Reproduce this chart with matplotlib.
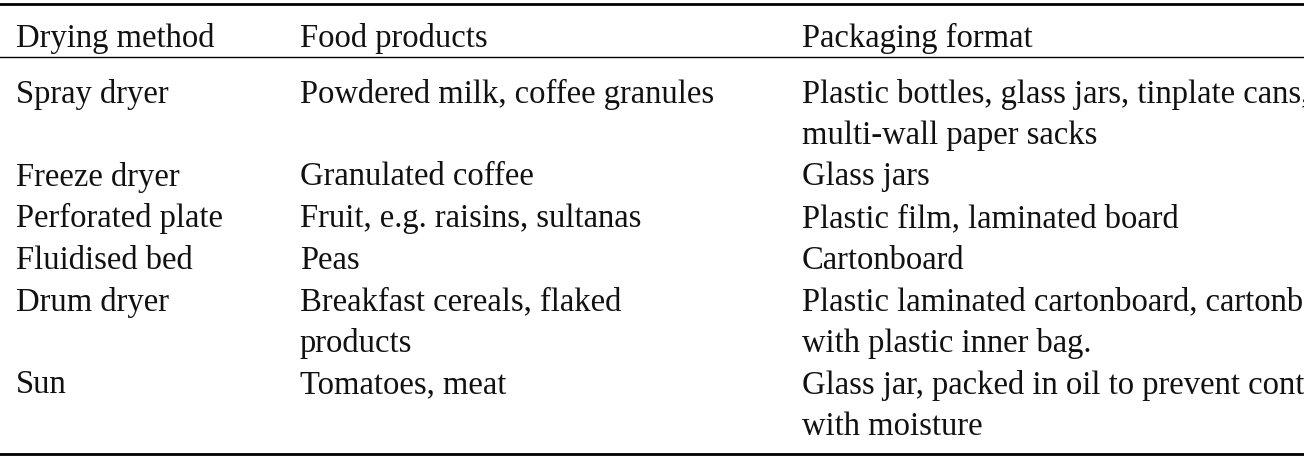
import matplotlib.pyplot as plt

headers = ['Drying method', 'Food products', 'Packaging format']
methods = ['Spray dryer', 'Freeze dryer', 'Perforated plate', 'Fluidised bed', 'Drum dryer', 'Sun']
products = [['Powdered milk, coffee granules'], ['Granulated coffee'], ['Fruit, e.g. raisins, sultanas'],
            ['Peas'], ['Breakfast cereals, flaked', 'products'], ['Tomatoes, meat']]
packaging = [['Plastic bottles, glass jars, tinplate cans,', 'multi-wall paper sacks'], ['Glass jars'],
             ['Plastic film, laminated board'], ['Cartonboard'],
             ['Plastic laminated cartonboard, cartonboard', 'with plastic inner bag.'],
             ['Glass jar, packed in oil to prevent contact', 'with moisture']]

W, H = 1304, 458
fig = plt.figure(figsize=(W / 100, H / 100), dpi=100)
ax = fig.add_axes([0, 0, 1, 1])
ax.set_xlim(0, W)
ax.set_ylim(H, 0)
ax.axis('off')

col_x = [16, 300, 802]
font = dict(family='Liberation Serif', fontsize=23.5, color='#111111', va='center', ha='left')

for x, h in zip(col_x, headers):
    ax.text(x, 38, h, **font)

y0, step = 94, 41.6
line = 0
for m, p, k in zip(methods, products, packaging):
    n = max(len(p), len(k))
    ax.text(col_x[0], y0 + line * step, m, **font)
    for j, s in enumerate(p):
        ax.text(col_x[1], y0 + (line + j) * step, s, **font)
    for j, s in enumerate(k):
        ax.text(col_x[2], y0 + (line + j) * step, s, **font)
    line += n

ax.plot([0, W], [4, 4], color='black', lw=2)
ax.plot([0, W], [57, 57], color='black', lw=1)
ax.plot([0, W], [454, 454], color='black', lw=2)

fig.savefig('out.png', dpi=100)
